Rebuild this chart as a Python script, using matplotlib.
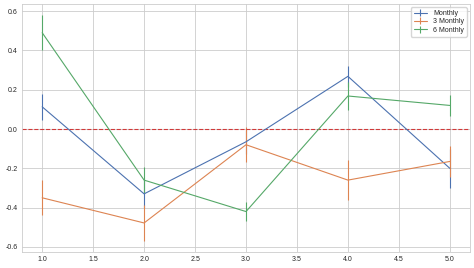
import numpy as np
import matplotlib
matplotlib.use("Agg")
import matplotlib.pyplot as plt
import seaborn as sns

# Values
x = [1, 2, 3, 4, 5]
monthly = [0.113, -0.33, -0.065, 0.268, -0.20]
monthly_err = [0.065, 0.07, 0.06, 0.055, 0.10]
three_monthly = [-0.35, -0.478, -0.08, -0.26, -0.165]
three_monthly_err = [0.09, 0.09, 0.09, 0.10, 0.08]
six_monthly = [0.49, -0.26, -0.42, 0.168, 0.12]
six_monthly_err = [0.09, 0.065, 0.05, 0.07, 0.055]

sns.set_theme(style="whitegrid")
plt.rcParams['font.family'] = ['Liberation Sans', 'DejaVu Sans']
plt.rcParams['axes.unicode_minus'] = False

fig = plt.figure(figsize=(4.74, 2.68), dpi=100)
ax = fig.add_axes([0.046, 0.06, 0.946, 0.926])

ax.errorbar(x, monthly, yerr=monthly_err, label='Monthly', linewidth=0.8, elinewidth=0.8)
ax.errorbar(x, three_monthly, yerr=three_monthly_err, label='3 Monthly', linewidth=0.8, elinewidth=0.8)
ax.errorbar(x, six_monthly, yerr=six_monthly_err, label='6 Monthly', linewidth=0.8, elinewidth=0.8)
ax.axhline(0, color='#d03a3a', linestyle='--', linewidth=0.8)

ax.set_xticks([1.0, 1.5, 2.0, 2.5, 3.0, 3.5, 4.0, 4.5, 5.0])
ax.set_yticks([-0.6, -0.4, -0.2, 0.0, 0.2, 0.4, 0.6])
ax.tick_params(labelsize=5, pad=3, length=0)
for s in ax.spines.values():
    s.set_linewidth(0.6)
ax.grid(linewidth=0.6)
ax.legend(fontsize=5, loc='upper right', handlelength=2, borderpad=0.4, labelspacing=0.2)

fig.savefig('out.png', dpi=100)
